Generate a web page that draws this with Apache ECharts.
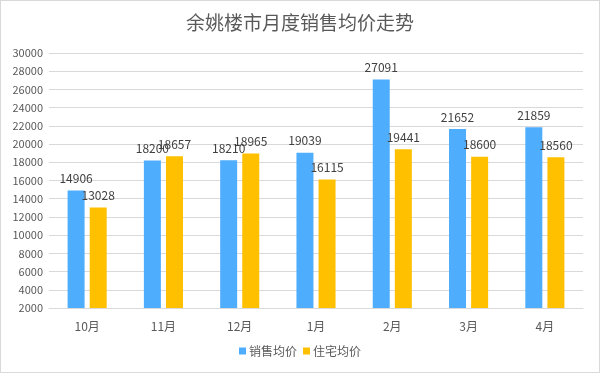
<!DOCTYPE html>
<html>
<head>
<meta charset="utf-8">
<script src="https://cdn.jsdelivr.net/npm/echarts@6/dist/echarts.min.js"></script>
<style>
  html, body { margin: 0; padding: 0; background: #fff; }
  #main { width: 600px; height: 373px; box-sizing: border-box; border: 1px solid #d9d9d9; }
</style>
</head>
<body>
<div id="main"></div>
<script>
const months = ['10月', '11月', '12月', '1月', '2月', '3月', '4月'];
const salesAvg = [14906, 18200, 18210, 19039, 27091, 21652, 21859];
const homeAvg = [13028, 18657, 18965, 16115, 19441, 18600, 18560];

const font = '"Microsoft YaHei", "Noto Sans CJK SC", sans-serif';

const chart = echarts.init(document.getElementById('main'));

const option = {
  animation: false,
  title: {
    text: '余姚楼市月度销售均价走势',
    left: 'center',
    top: 7,
    textStyle: { fontSize: 19, fontWeight: 'normal', color: '#595959', fontFamily: font }
  },
  legend: {
    data: ['销售均价', '住宅均价'],
    bottom: 10,
    left: 'center',
    itemWidth: 7,
    itemHeight: 7,
    itemGap: 6,
    icon: 'rect',
    textStyle: { fontSize: 12, color: '#595959', fontFamily: font, padding: [0, 0, 0, -2] }
  },
  grid: { left: 48, right: 16, top: 52, bottom: 64, containLabel: false },
  xAxis: {
    type: 'category',
    data: months,
    axisLine: { lineStyle: { color: '#d9d9d9' } },
    axisTick: { show: false },
    axisLabel: { color: '#595959', fontSize: 12, fontFamily: font, margin: 12 }
  },
  yAxis: {
    type: 'value',
    min: 2000,
    max: 30000,
    interval: 2000,
    axisLine: { show: false },
    axisTick: { show: false },
    splitLine: { lineStyle: { color: '#d9d9d9' } },
    axisLabel: { color: '#595959', fontSize: 11, fontFamily: font, margin: 6, formatter: v => String(v) }
  },
  series: [
    {
      name: '销售均价',
      type: 'bar',
      data: salesAvg,
      barWidth: 17,
      barGap: '30%',
      itemStyle: { color: '#4eadfd' },
      label: { show: true, position: 'top', color: '#404040', fontSize: 12, fontFamily: font, distance: 6 }
    },
    {
      name: '住宅均价',
      type: 'bar',
      data: homeAvg,
      barWidth: 17,
      itemStyle: { color: '#ffc000' },
      label: { show: true, position: 'top', color: '#404040', fontSize: 12, fontFamily: font, distance: 6 }
    }
  ]
};

chart.setOption(option);
</script>
</body>
</html>
